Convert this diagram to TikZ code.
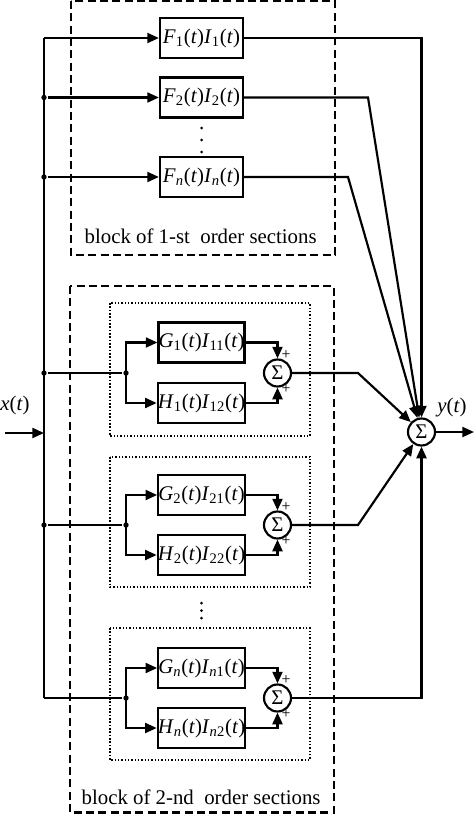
\documentclass[tikz,border=0pt]{standalone}
\usepackage{fontspec}
\setmainfont{Liberation Serif}
\usetikzlibrary{arrows.meta}

\newcommand{\secgain}[3]{\textit{#1}\textsubscript{#2}(\textit{t})\textit{I}\textsubscript{#3}(\textit{t})}

\begin{document}
\begin{tikzpicture}[x=0.6pt,y=-0.6pt,line width=1.3pt,
  font=\fontsize{12.5}{14}\selectfont,
  >={Triangle[length=7pt,width=6pt]},
  gainbox/.style={draw,minimum width=49.8pt,minimum height=24pt,inner sep=0pt},
  sumnode/.style={draw,circle,minimum size=16.2pt,inner sep=0pt},
  junction/.style={circle,fill,inner sep=0pt,minimum size=3.2pt},
  blockframe/.style={dash pattern=on 4.8pt off 2.6pt},
  sectionframe/.style={line width=1.1pt,dash pattern=on 0.9pt off 1.1pt},
  plussign/.style={font=\fontsize{9.5}{10}\selectfont,inner sep=0pt}]

\useasboundingbox (0,0) rectangle (474,814);

% Frames of the two blocks
\draw[blockframe]
  (71,1) rectangle (335,255);

\draw[blockframe]
  (70,286) rectangle (334,812.5);

% Frames of the 2-nd order sections
\draw[sectionframe] (110,303) rectangle (310,436);
\draw[sectionframe] (110,457) rectangle (310,587);
\draw[sectionframe] (110,628) rectangle (310,760);

% 1-st order sections
\node[gainbox] (f1) at (201.5,38) {\secgain{F}{1}{1}};
\node[gainbox] (f2) at (201.5,97.5) {\secgain{F}{2}{2}};
\node[gainbox] (fn) at (201.5,177) {\secgain{F}{\textit{n}}{\textit{n}}};

\foreach \yy in {128,140,152}
  \fill (201.5,\yy) circle (0.9pt);

% 2-nd order sections
\node[gainbox] (g1) at (201.5,342.5) {\secgain{G}{1}{11}};
\node[gainbox] (h1) at (201.5,403) {\secgain{H}{1}{12}};
\node[sumnode] (s1) at (277.5,373) {Σ};

\node[gainbox] (g2) at (201.5,495) {\secgain{G}{2}{21}};
\node[gainbox] (h2) at (201.5,555) {\secgain{H}{2}{22}};
\node[sumnode] (s2) at (277.5,525) {Σ};

\foreach \yy in {603,610.5,618}
  \fill (201.5,\yy) circle (0.9pt);

\node[gainbox] (gn) at (201.5,668) {\secgain{G}{\textit{n}}{\textit{n}1}};
\node[gainbox] (hn) at (201.5,728) {\secgain{H}{\textit{n}}{\textit{n}2}};
\node[sumnode] (sn) at (277.5,698) {Σ};

% Output adder
\node[sumnode] (sum) at (421.5,432) {Σ};

% Input bus
\coordinate (bustop) at (44,38);
\coordinate (busbot) at (44,698);
\coordinate (busin) at (44,433);
\coordinate (xin) at (5,433);
\coordinate (yout) at (474,432);

\node[junction] (j2) at (44,97.5) {};
\node[junction] (jn) at (44,177) {};
\node[junction] (ja) at (44,373) {};
\node[junction] (jb) at (44,525) {};

\node[junction] (b1) at (126,373) {};
\node[junction] (b2) at (126,525) {};
\node[junction] (b3) at (126,698) {};

\draw[->]
  (xin) -- (busin);

\draw
  (bustop) -- (busbot);

% Feeding the sections
\draw[->] (bustop) -- (f1);
\draw[->] (j2) -- (f2);
\draw[->] (jn) -- (fn);

\draw (ja) -- (b1);
\draw (jb) -- (b2);
\draw (busbot) -- (b3);

\draw[->] (b1.center) |- (g1);
\draw[->] (b1.center) |- (h1);
\draw[->] (b2.center) |- (g2);
\draw[->] (b2.center) |- (h2);
\draw[->] (b3.center) |- (gn);
\draw[->] (b3.center) |- (hn);

% Into the section adders
\draw[->] (g1) -| (s1);
\draw[->] (h1) -| (s1);
\draw[->] (g2) -| (s2);
\draw[->] (h2) -| (s2);
\draw[->] (gn) -| (sn);
\draw[->] (hn) -| (sn);

\node[plussign] (p1a) at (286,355) {+};
\node[plussign] (p1b) at (286,389) {+};
\node[plussign] (p2a) at (286,507) {+};
\node[plussign] (p2b) at (286,541) {+};
\node[plussign] (p3a) at (286,680) {+};
\node[plussign] (p3b) at (286,714) {+};

% Into the output adder
\draw[->] (f1) -| (sum);
\draw[->]
  (f2.east) -- (368,97.5) -- (sum);
\draw[->]
  (fn.east) -- (348,177) -- (sum);
\draw[->]
  (s1.east) -- (358,373) -- (sum);
\draw[->]
  (s2.east) -- (358,525) -- (sum);
\draw[->] (sn) -| (sum);

\draw[->]
  (sum) -- (yout);

% Signal and block labels
\node (xlbl) at (15,405) {\textit{x}(\textit{t})};
\node (ylbl) at (452,408) {\textit{y}(\textit{t})};

\node[anchor=west] (lbl1) at (78,236) {block of 1-st~~order sections};
\node[anchor=west] (lbl2) at (75,797) {block of 2-nd~~order sections};

\end{tikzpicture}
\end{document}
